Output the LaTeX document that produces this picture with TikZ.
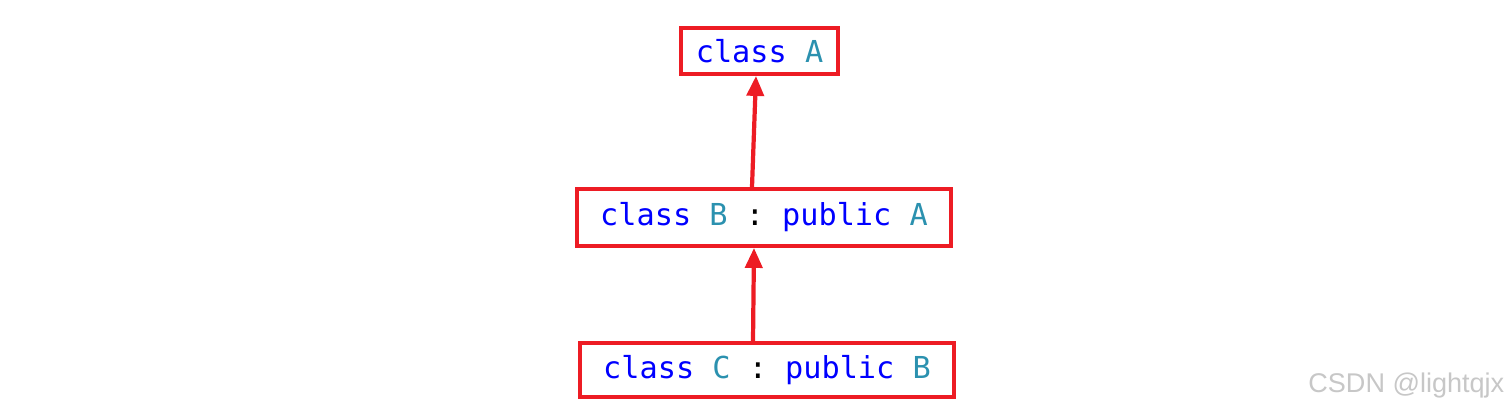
\documentclass[tikz,border=0pt]{standalone}
\usepackage{fontspec}
\setmonofont{DejaVu Sans Mono}
\setsansfont{Liberation Sans}
\usetikzlibrary{arrows.meta}
\definecolor{kwblue}{RGB}{0,0,255}
\definecolor{typeteal}{RGB}{43,145,175}
\definecolor{boxred}{RGB}{237,28,36}
\newcommand{\kw}[1]{\textcolor{kwblue}{#1}}
\newcommand{\ty}[1]{\textcolor{typeteal}{#1}}

\begin{document}
\begin{tikzpicture}[font=\ttfamily\fontsize{8.6}{10}\selectfont,
  classbox/.style={draw=boxred,line width=1.1pt,inner sep=0pt,minimum height=.5cm},
  inherit/.style={draw=boxred,line width=1.2pt,-{Triangle[width=.17cm,length=.2cm]}}]
\useasboundingbox (0,0) rectangle (15.12,4.15);
\node[classbox,minimum width=1.57cm,minimum height=.46cm] (A) at (7.595,3.64) {\kw{class} \ty{A}};
\node[classbox,minimum width=3.74cm,minimum height=.57cm] (B) at (7.64,1.975) {\kw{class} \ty{B} : \kw{public} \ty{A}};
\node[classbox,minimum width=3.74cm,minimum height=.54cm] (C) at (7.67,.45) {\kw{class} \ty{C} : \kw{public} \ty{B}};
\draw[inherit] ([xshift=-.12cm]B.north) -- ([xshift=-.035cm]A.south);
\draw[inherit] ([xshift=-.14cm]C.north) -- ([xshift=-.10cm]B.south);
\node[anchor=east,text=black!22,font=\sffamily\fontsize{7.7}{9}\selectfont,inner sep=0pt] (mark) at (15.05,.3) {CSDN @lightqjx};
\end{tikzpicture}
\end{document}
